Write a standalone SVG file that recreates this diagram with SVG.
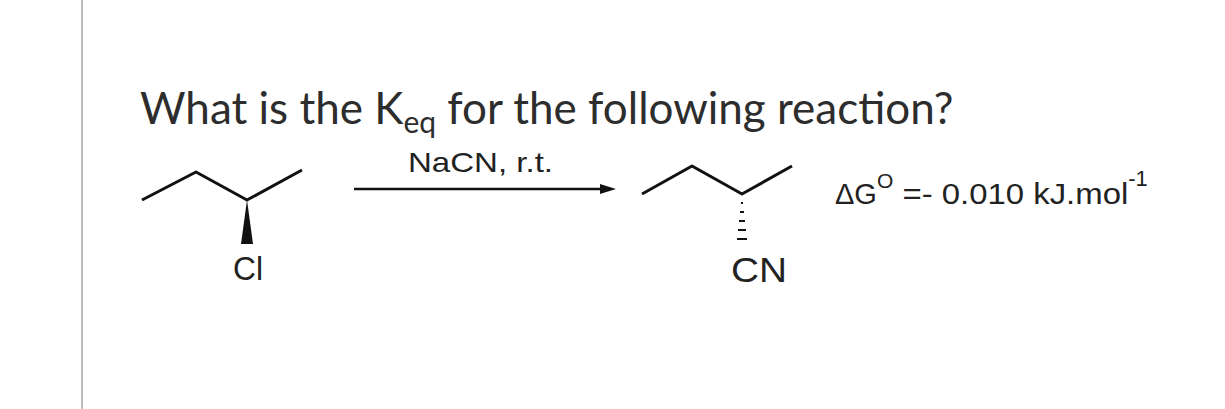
<svg xmlns="http://www.w3.org/2000/svg" width="1225" height="409" viewBox="0 0 1225 409">
<style>
.b{stroke:#111;stroke-width:3;fill:none;stroke-linejoin:round}
.t{font-family:"Liberation Sans",Arial,sans-serif;fill:#222}
</style>
<rect width="1225" height="409" fill="#fff"/>
<line x1="82" y1="0" x2="82" y2="409" stroke="#bbb" stroke-width="2"/>
<g id="title"><text x="140" y="124" font-family="Lato,sans-serif" font-size="44" fill="#2d2d2d">What is the K<tspan font-size="30" dy="9">eq</tspan><tspan dy="-9"> for the following reaction?</tspan></text></g>
<g id="reactant">
<polyline class="b" points="142,200 196,172 247,200 302,170"/>
<polygon points="247,200 241,244 253,244" fill="#111"/>
<text class="t" x="248" y="280" font-size="34" text-anchor="middle" textLength="30" lengthAdjust="spacingAndGlyphs">Cl</text>
</g>
<g id="connectors">
<line x1="354" y1="189" x2="605" y2="189" stroke="#111" stroke-width="2.5"/>
<polygon points="616,189 600,184 600,194" fill="#111"/>
<text class="t" x="408" y="172" font-size="28" textLength="145" lengthAdjust="spacingAndGlyphs">NaCN, r.t.</text>
</g>
<g id="product">
<polyline class="b" points="642,194 692,166 742,194 792,166"/>
<g stroke="#111" stroke-width="2">
<line x1="741" y1="203" x2="743" y2="203"/>
<line x1="740" y1="212" x2="744" y2="212"/>
<line x1="739" y1="221" x2="745" y2="221"/>
<line x1="738" y1="230" x2="746" y2="230"/>
<line x1="737" y1="239" x2="747" y2="239"/>
</g>
<text class="t" x="731" y="282" font-size="35" textLength="56" lengthAdjust="spacingAndGlyphs">CN</text>
</g>
<g id="dg"><text class="t" x="835" y="204" font-size="29">ΔG<tspan dy="-16" font-size="21">O</tspan><tspan dy="16" textLength="235" lengthAdjust="spacingAndGlyphs"> =- 0.010 kJ.mol</tspan><tspan dy="-18" font-size="22">-1</tspan></text></g>
</svg>
